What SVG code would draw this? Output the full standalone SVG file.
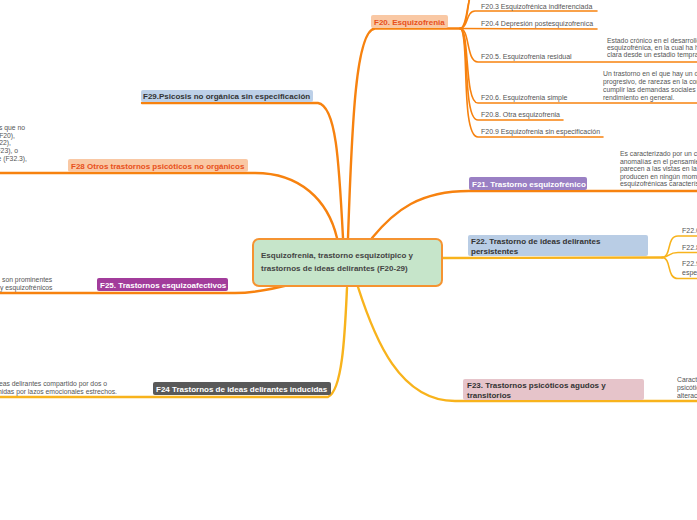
<svg xmlns="http://www.w3.org/2000/svg" width="697" height="520" viewBox="0 0 697 520">
<style>
text{font-family:"Liberation Sans",Arial,sans-serif}
.c{fill:none;stroke-linecap:round}
.o{stroke:#f7820f}
.a{stroke:#f8b31c}
.m{stroke-width:2.4}
.s{stroke-width:1.6}
.lb{font-size:8px;font-weight:bold}
.sub{font-size:7px;fill:#555}
.d{font-size:6.8px;fill:#555}
.dk{fill:#333}
.rd{fill:#e8501a}
.wh{fill:#fff}
</style>
<rect width="697" height="520" fill="#fff"/>
<g id="connectors">
<path class="c o m" d="M348,238 C352,120 356,30 375,28.5 L460,28.5"/>
<path class="c o s" d="M460,28.5 C468,28.5 466,-4 474,-10"/>
<path class="c o s" d="M460,28.5 C470,28.5 468,-20 476,-30"/>
<path class="c o s" d="M460,28.5 C468,28.5 466,11 475,11 L597,11"/>
<path class="c o s" d="M460,28.5 L597,29"/>
<path class="c o s" d="M460,28.5 C470,28.5 466,62 478,62 L697,62"/>
<path class="c o s" d="M460,28.5 C470,28.5 464,103 478,103 L697,103"/>
<path class="c o s" d="M460,28.5 C470,28.5 462,120 478,120 L563,120"/>
<path class="c o s" d="M460,28.5 C470,28.5 460,137 478,137 L603,137"/>
<path class="c o m" d="M343,238 C339,160 336,106 318,103 L142,103"/>
<path class="c o m" d="M337,238 C328,200 300,173 255,173 L0,173"/>
<path class="c o m" d="M372,238 C395,210 420,191 469,191 L697,191"/>
<path class="c a m" d="M443,258 L662,257.5"/>
<path class="c a s" d="M662,257.5 C672,257 666,236 678,236 L697,236"/>
<path class="c a s" d="M662,257.5 C670,257 668,252.5 678,252.5 L697,252.5"/>
<path class="c a s" d="M662,257.5 C672,258 666,278.5 678,278.5 L697,278.5"/>
<path class="c a m" d="M358,287 C375,340 400,401 455,401 L697,401"/>
<path class="c a m" d="M347,288 C345,330 343,390 328,397 L0,397"/>
<path class="c o m" d="M296,283 C270,290 250,293 235,293 L0,293"/>
</g>
<g id="center">
<rect x="253" y="239" width="189" height="47" rx="6" fill="#c6e5ca" stroke="#f59331" stroke-width="2"/>
<text class="lb" x="261" y="258" fill="#444">Esquizofrenia, trastorno esquizotípico y</text>
<text class="lb" x="261" y="270.5" fill="#444">trastornos de ideas delirantes (F20-29)</text>
</g>
<g id="f20">
<rect x="371" y="15" width="77" height="13" rx="2" fill="#f9c8a4"/>
<text class="lb rd" x="374" y="24.5">F20. Esquizofrenia</text>
</g>
<g id="f20-3"><text class="sub" x="481" y="8.5">F20.3 Esquizofrénica indiferenciada</text></g>
<g id="f20-4"><text class="sub" x="481" y="26">F20.4 Depresión postesquizofrenica</text></g>
<g id="f20-5">
<text class="sub" x="481" y="59">F20.5. Esquizofrenia residual</text>
<text class="d" x="607" y="43">Estado crónico en el desarrollo de una</text>
<text class="d" x="607" y="50">esquizofrénica, en la cual ha habido</text>
<text class="d" x="607" y="57">clara desde un estadio temprano</text>
</g>
<g id="f20-6">
<text class="sub" x="481" y="100">F20.6. Esquizofrenia simple</text>
<text class="d" x="603" y="76">Un trastorno en el que hay un desarrollo</text>
<text class="d" x="603" y="84">progresivo, de rarezas en la conducta</text>
<text class="d" x="603" y="92">cumplir las demandas sociales y</text>
<text class="d" x="603" y="99.5">rendimiento en general.</text>
</g>
<g id="f20-8"><text class="sub" x="481" y="117">F20.8. Otra esquizofrenia</text></g>
<g id="f20-9"><text class="sub" x="481" y="134">F20.9 Esquizofrenia sin especificación</text></g>
<g id="f29">
<rect x="141" y="90" width="172" height="12" rx="2" fill="#bdd0e8"/>
<text class="lb dk" x="143" y="99">F29.Psicosis no orgánica sin especificación</text>
</g>
<g id="f28">
<rect x="68" y="159" width="180" height="13" rx="2" fill="#f9c8a4"/>
<text class="lb rd" x="71" y="168.5">F28 Otros trastornos psicóticos no orgánicos</text>
<text class="d" x="25" y="130" text-anchor="end">trastornos psicóticos que no</text>
<text class="d" x="15" y="137.5" text-anchor="end">esquizofrenia (F20),</text>
<text class="d" x="11" y="145" text-anchor="end">persistentes (F22),</text>
<text class="d" x="18" y="153" text-anchor="end">transitorios (F23), o</text>
<text class="d" x="27" y="160.5" text-anchor="end">grave (F32.3),</text>
</g>
<g id="f21">
<rect x="469" y="177" width="118" height="13" rx="2" fill="#9a80c4"/>
<text class="lb wh" x="472" y="186.5">F21. Trastorno esquizofrénico</text>
<text class="d" x="620" y="156">Es caracterizado por un cuadro</text>
<text class="d" x="620" y="163.5">anomalías en el pensamiento</text>
<text class="d" x="620" y="171">parecen a las vistas en la</text>
<text class="d" x="620" y="178.5">producen en ningún momento</text>
<text class="d" x="620" y="186">esquizofrénicas características</text>
</g>
<g id="f22">
<rect x="468" y="235" width="180" height="21" rx="2" fill="#b9cde5"/>
<text class="lb dk" x="471" y="244">F22. Trastorno de ideas delirantes</text>
<text class="lb dk" x="471" y="253.5">persistentes</text>
</g>
<g id="f22-0"><text class="sub" x="682" y="233">F22.0 Trastorno</text></g>
<g id="f22-8"><text class="sub" x="682" y="250">F22.8 Otros</text></g>
<g id="f22-9">
<text class="sub" x="682" y="266">F22.9 Trastorno</text>
<text class="sub" x="682" y="275">especificación</text>
</g>
<g id="f23">
<rect x="463" y="379" width="181" height="21" rx="2" fill="#e6c4ca"/>
<text class="lb dk" x="467" y="388">F23. Trastornos psicóticos agudos y</text>
<text class="lb dk" x="467" y="397.5">transitorios</text>
<text class="d" x="677" y="382">Caracterizados</text>
<text class="d" x="677" y="390">psicóticos</text>
<text class="d" x="677" y="398">alteraciones</text>
</g>
<g id="f25">
<rect x="97" y="278" width="131" height="13" rx="2" fill="#a23c9b"/>
<text class="lb wh" x="100" y="287.5">F25. Trastornos esquizoafectivos</text>
<text class="d" x="2" y="281.5">son prominentes</text>
<text class="d" x="0" y="289.5">y esquizofrénicos</text>
</g>
<g id="f24">
<rect x="153" y="382" width="178" height="13" rx="2" fill="#595959"/>
<text class="lb wh" x="156" y="391.5">F24 Trastornos de ideas delirantes inducidas</text>
<text class="d" x="107" y="386" text-anchor="end">Trastorno de ideas delirantes compartido por dos o</text>
<text class="d" x="117" y="393.5" text-anchor="end">personas unidas por lazos emocionales estrechos.</text>
</g>
</svg>
